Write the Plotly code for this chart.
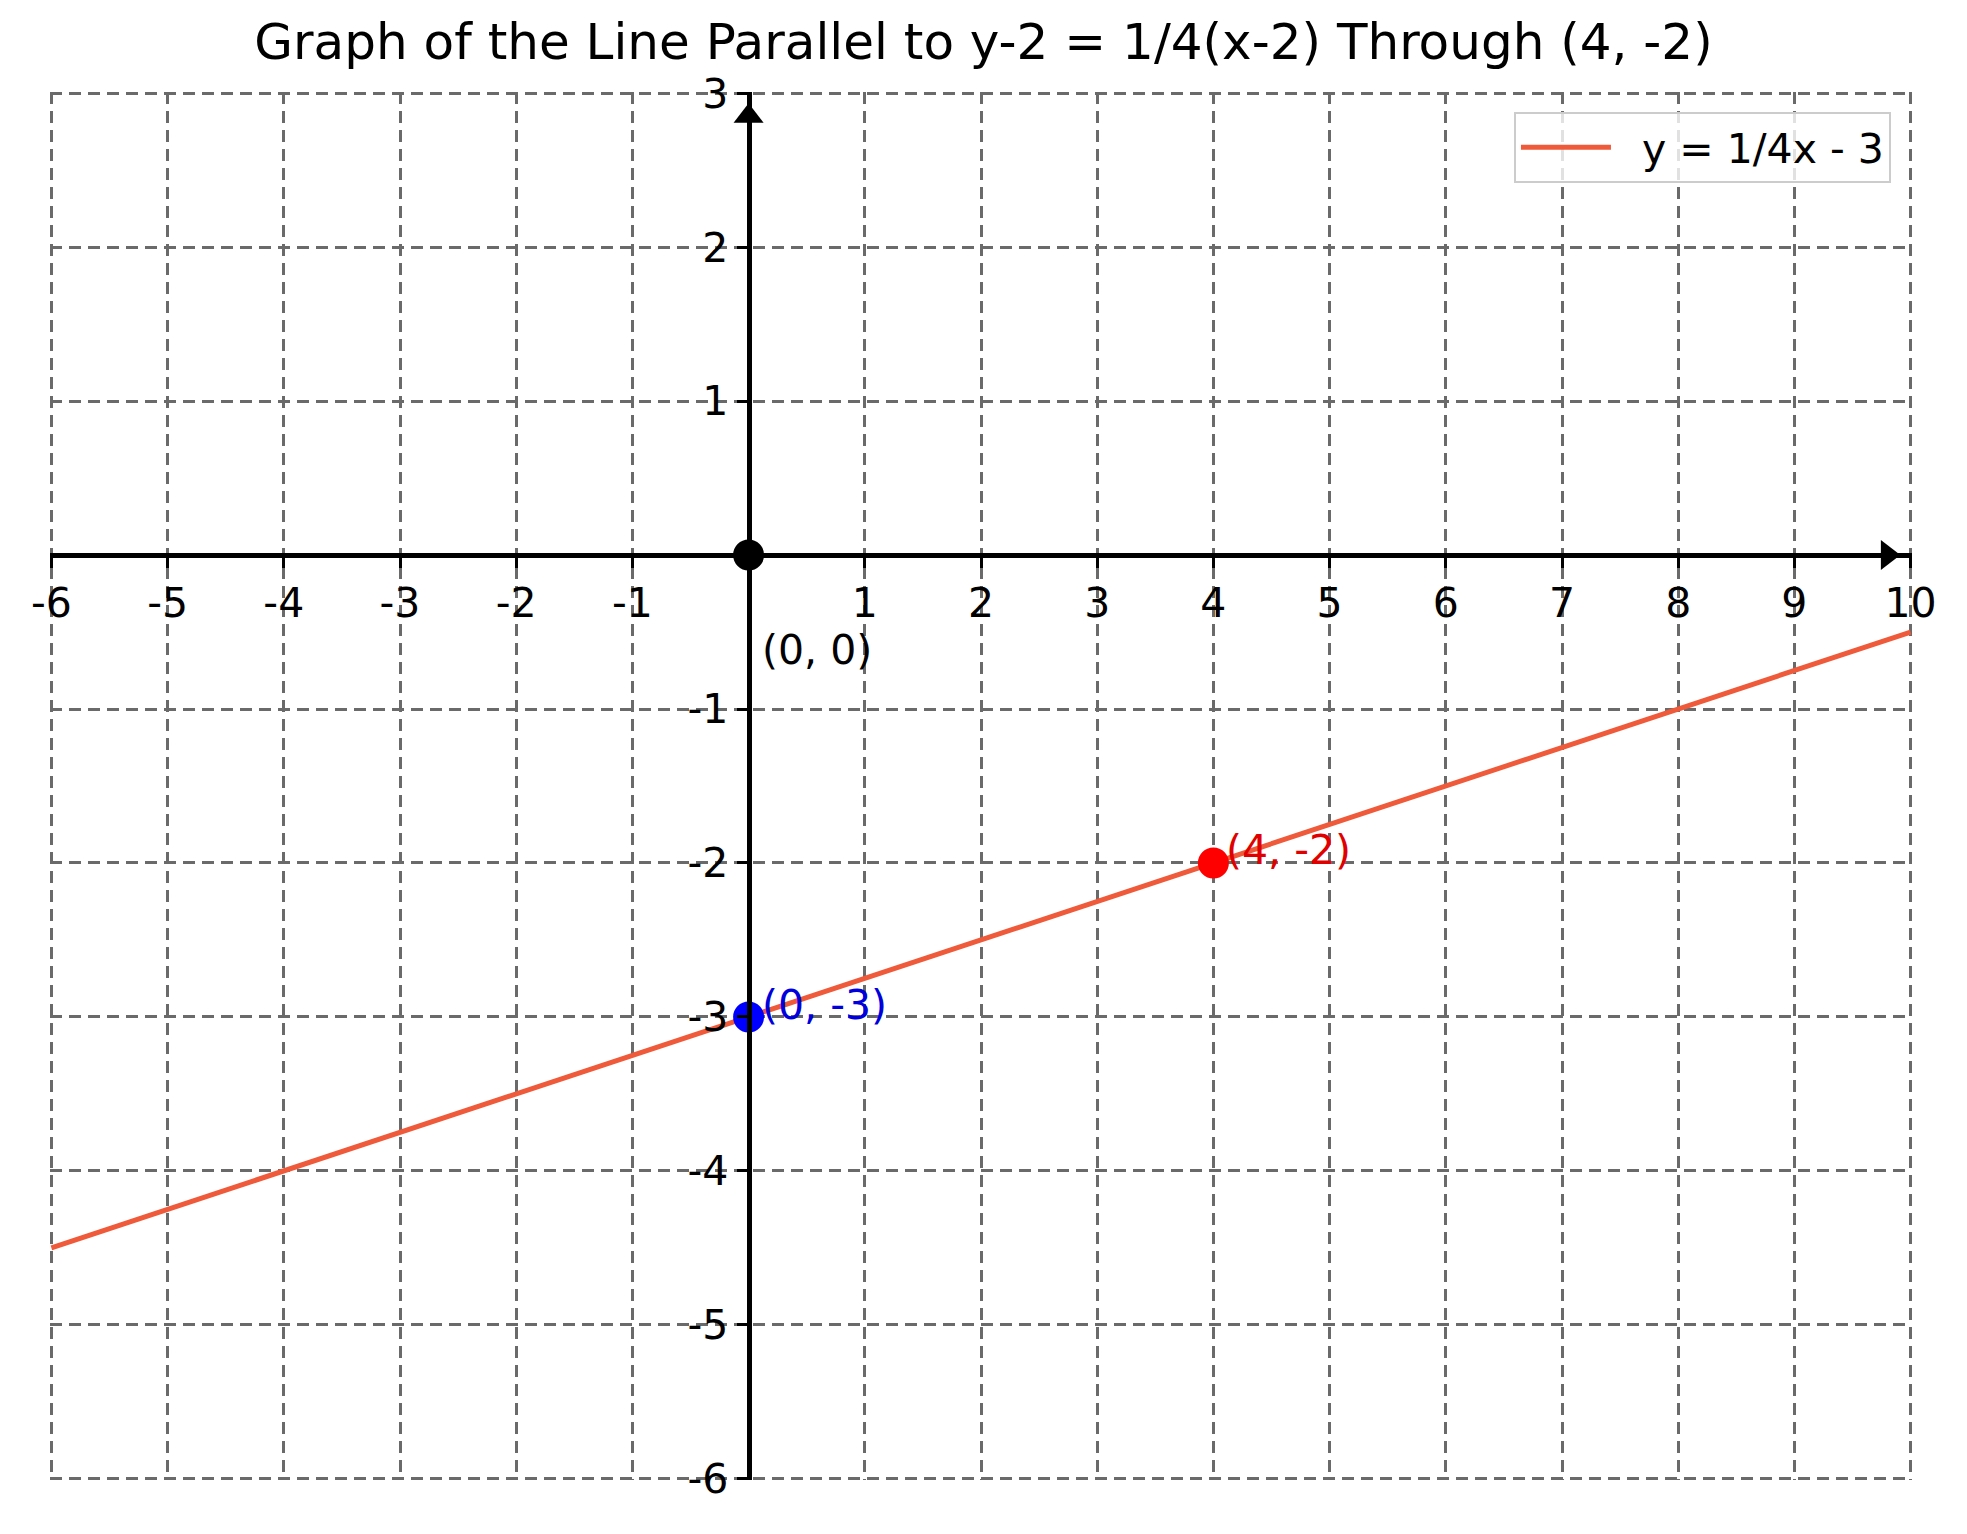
import plotly.graph_objects as go

# ---- data ----
line_x = [-6, 10]
line_y = [-4.5, -0.5]          # y = 1/4x - 3 at the ends of the view
line_name = "y = 1/4x - 3"

origin_x = [0]
origin_y = [0]
intercept_x = [0]
intercept_y = [-3]
given_x = [4]
given_y = [-2]

x_ticks = [-6, -5, -4, -3, -2, -1, 1, 2, 3, 4, 5, 6, 7, 8, 9, 10]
y_ticks = [-6, -5, -4, -3, -2, -1, 1, 2, 3]
x_range = [-6.012, 10.012]
y_range = [-6.008, 3.008]

title = "Graph of the Line Parallel to y-2 = 1/4(x-2) Through (4, -2)"

FONT = "DejaVu Sans"
W, H = 1967, 1534
ML, MR, MT, MB = 50, 55, 92, 54

fig = go.Figure()

fig.add_trace(go.Scatter(
    x=line_x, y=line_y, mode="lines", name="\u00a0\u00a0" + line_name,
    line=dict(color="#EF5A3A", width=5), cliponaxis=False,
))
fig.add_trace(go.Scatter(
    x=origin_x, y=origin_y, mode="markers", showlegend=False,
    marker=dict(color="black", size=31), cliponaxis=False,
))
fig.add_trace(go.Scatter(
    x=intercept_x, y=intercept_y, mode="markers", showlegend=False,
    marker=dict(color="#0000FF", size=31), cliponaxis=False,
))
fig.add_trace(go.Scatter(
    x=given_x, y=given_y, mode="markers", showlegend=False,
    marker=dict(color="#FF0000", size=31), cliponaxis=False,
))
# arrow heads at the ends of the axes
fig.add_trace(go.Scatter(
    x=[10 - 0.2], y=[0], mode="markers", showlegend=False,
    marker=dict(symbol="triangle-right", color="black", size=26), cliponaxis=False,
))
fig.add_trace(go.Scatter(
    x=[0], y=[3 - 0.15], mode="markers", showlegend=False,
    marker=dict(symbol="triangle-up", color="black", size=26), cliponaxis=False,
))

annos = [
    dict(x=origin_x[0], y=origin_y[0], text="(0, 0)", color="black", xshift=11, yshift=-95),
    dict(x=intercept_x[0], y=intercept_y[0], text="(0, -3)", color="#0000DD", xshift=11, yshift=12),
    dict(x=given_x[0], y=given_y[0], text="(4, -2)", color="#E00000", xshift=11, yshift=13),
]
for a in annos:
    fig.add_annotation(
        x=a["x"], y=a["y"], xref="x", yref="y", text=a["text"], showarrow=False,
        xanchor="left", yanchor="middle", xshift=a["xshift"], yshift=a["yshift"],
        font=dict(family=FONT, size=41, color=a["color"]),
    )

grid_style = dict(showgrid=True, gridcolor="#6a6a6a", gridwidth=2.5, griddash="12px,7px")

fig.update_layout(
    width=W, height=H,
    margin=dict(l=ML, r=MR, t=MT, b=MB),
    paper_bgcolor="white", plot_bgcolor="white",
    font=dict(family=FONT, size=41, color="black"),
    title=dict(text=title, x=0.5, xref="container", xanchor="center",
               y=1 - 41 / H, yref="container", yanchor="middle",
               font=dict(family=FONT, size=50, color="black")),
    showlegend=True,
    legend=dict(x=0.9887, y=0.9856, xanchor="right", yanchor="top",
                bgcolor="rgba(255,255,255,0.8)", bordercolor="#cccccc", borderwidth=2,
                itemwidth=90, tracegroupgap=0,
                font=dict(family=FONT, size=41, color="black")),
    xaxis=dict(range=x_range, tickvals=x_ticks, ticktext=[str(v) for v in x_ticks],
               anchor="free", position=(0 - y_range[0]) / (y_range[1] - y_range[0]),
               showline=True, linecolor="black", linewidth=5,
               ticks="outside", ticklen=10, tickwidth=2.5, tickcolor="black",
               zeroline=False, tickfont=dict(family=FONT, size=41, color="black"),
               **grid_style),
    yaxis=dict(range=y_range, tickvals=y_ticks, ticktext=[str(v) for v in y_ticks],
               anchor="free", position=(0 - x_range[0]) / (x_range[1] - x_range[0]),
               showline=True, linecolor="black", linewidth=5,
               ticks="outside", ticklen=10, tickwidth=2.5, tickcolor="black",
               zeroline=False, tickfont=dict(family=FONT, size=41, color="black"),
               **grid_style),
)

fig.write_html("out.html")
